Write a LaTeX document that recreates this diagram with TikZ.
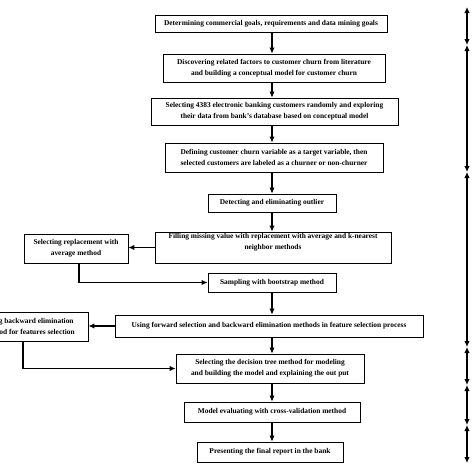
\documentclass[tikz,border=0pt]{standalone}
\usepackage{fontspec}
\setmainfont{Liberation Serif}
\usetikzlibrary{arrows.meta,calc}
\begin{document}
\begin{tikzpicture}[x=1pt,y=-1pt,
  box/.style={draw=black,line width=0.9pt,fill=white,inner sep=1pt,align=center,
    font=\fontsize{7.4}{11}\selectfont\bfseries},
  arr/.style={line width=1.1pt,-{Latex[length=6pt,width=5.5pt]}},
  tl/.style={line width=1.1pt,{Latex[length=6pt,width=5.5pt]}-{Latex[length=6pt,width=5.5pt]}}]
\useasboundingbox (0,0) rectangle (474,474);
\fill[white] (0,0) rectangle (474,474);
\clip (0,0) rectangle (474,474);
\coordinate (col) at (272,0);
\node[box,minimum width=232pt,minimum height=17pt] (B1) at (271,23.5) {Determining commercial goals, requirements and data mining goals};
\node[box,minimum width=222pt,minimum height=28pt] (B2) at (274,68) {Discovering related factors to customer churn from literature\\and building a conceptual model for customer churn};
\node[box,minimum width=247pt,minimum height=27pt] (B3) at (274.5,111.5) {Selecting 4383 electronic banking customers randomly and exploring\\their data from bank's database based on conceptual model};
\node[box,minimum width=218pt,minimum height=29pt] (B4) at (274,157.5) {Defining customer churn variable as a target variable, then\\selected customers are labeled as a churner or non-churner};
\node[box,minimum width=128pt,minimum height=18pt] (B5) at (272,203) {Detecting and eliminating outlier};
\node[box,minimum width=236pt,minimum height=31pt] (B6) at (273,247.5) {Filling missing value with replacement with average and k-nearest\\neighbor methods\\[1pt]};
\node[box,minimum width=104pt,minimum height=29pt] (L1) at (76,248.5) {Selecting replacement with\\average method};
\node[box,minimum width=128pt,minimum height=19pt] (B7) at (272,282.5) {Sampling with bootstrap method};
\node[box,minimum width=308pt,minimum height=22pt] (B8) at (269,326) {Using forward selection and backward elimination methods in feature selection process};
\node[box,minimum width=118pt,minimum height=29pt] (L2) at (29,326.5) {Using backward elimination\\method for features selection};
\node[box,minimum width=188pt,minimum height=29pt] (B9) at (270,368.5) {Selecting the decision tree method for modeling\\and building the model and explaining the out put};
\node[box,minimum width=176pt,minimum height=20pt] (B10) at (272,412) {Model evaluating with cross-validation method};
\node[box,minimum width=146pt,minimum height=20pt] (B11) at (270,452) {Presenting the final report in the bank};
% main column arrows
\foreach \a/\b in {B1/B2,B2/B3,B3/B4,B4/B5,B5/B6,B7/B8,B8/B9,B9/B10,B10/B11}
  \draw[arr] (\a.south -| col) -- (\b.north -| col);
% side branches
\draw[arr] (B6.west) -- (B6.west -| L1.east);
\draw[arr] ([xshift=3pt]L1.south) |- (B7.west);
\draw[arr] (B8.west) -- (B8.west -| L2.east);
\draw[arr] ([xshift=-6pt]L2.south) |- (B9.west);
% timeline
\coordinate (t0) at (467,7);
\coordinate (t1) at (467,45);
\coordinate (t2) at (467,172);
\coordinate (t3) at (467,347);
\coordinate (t4) at (467,385);
\coordinate (t5) at (467,425);
\coordinate (t6) at (467,463);
\foreach \a/\b in {t0/t1,t1/t2,t2/t3,t3/t4,t4/t5,t5/t6}
  \draw[tl] (\a) -- (\b);
\end{tikzpicture}
\end{document}
